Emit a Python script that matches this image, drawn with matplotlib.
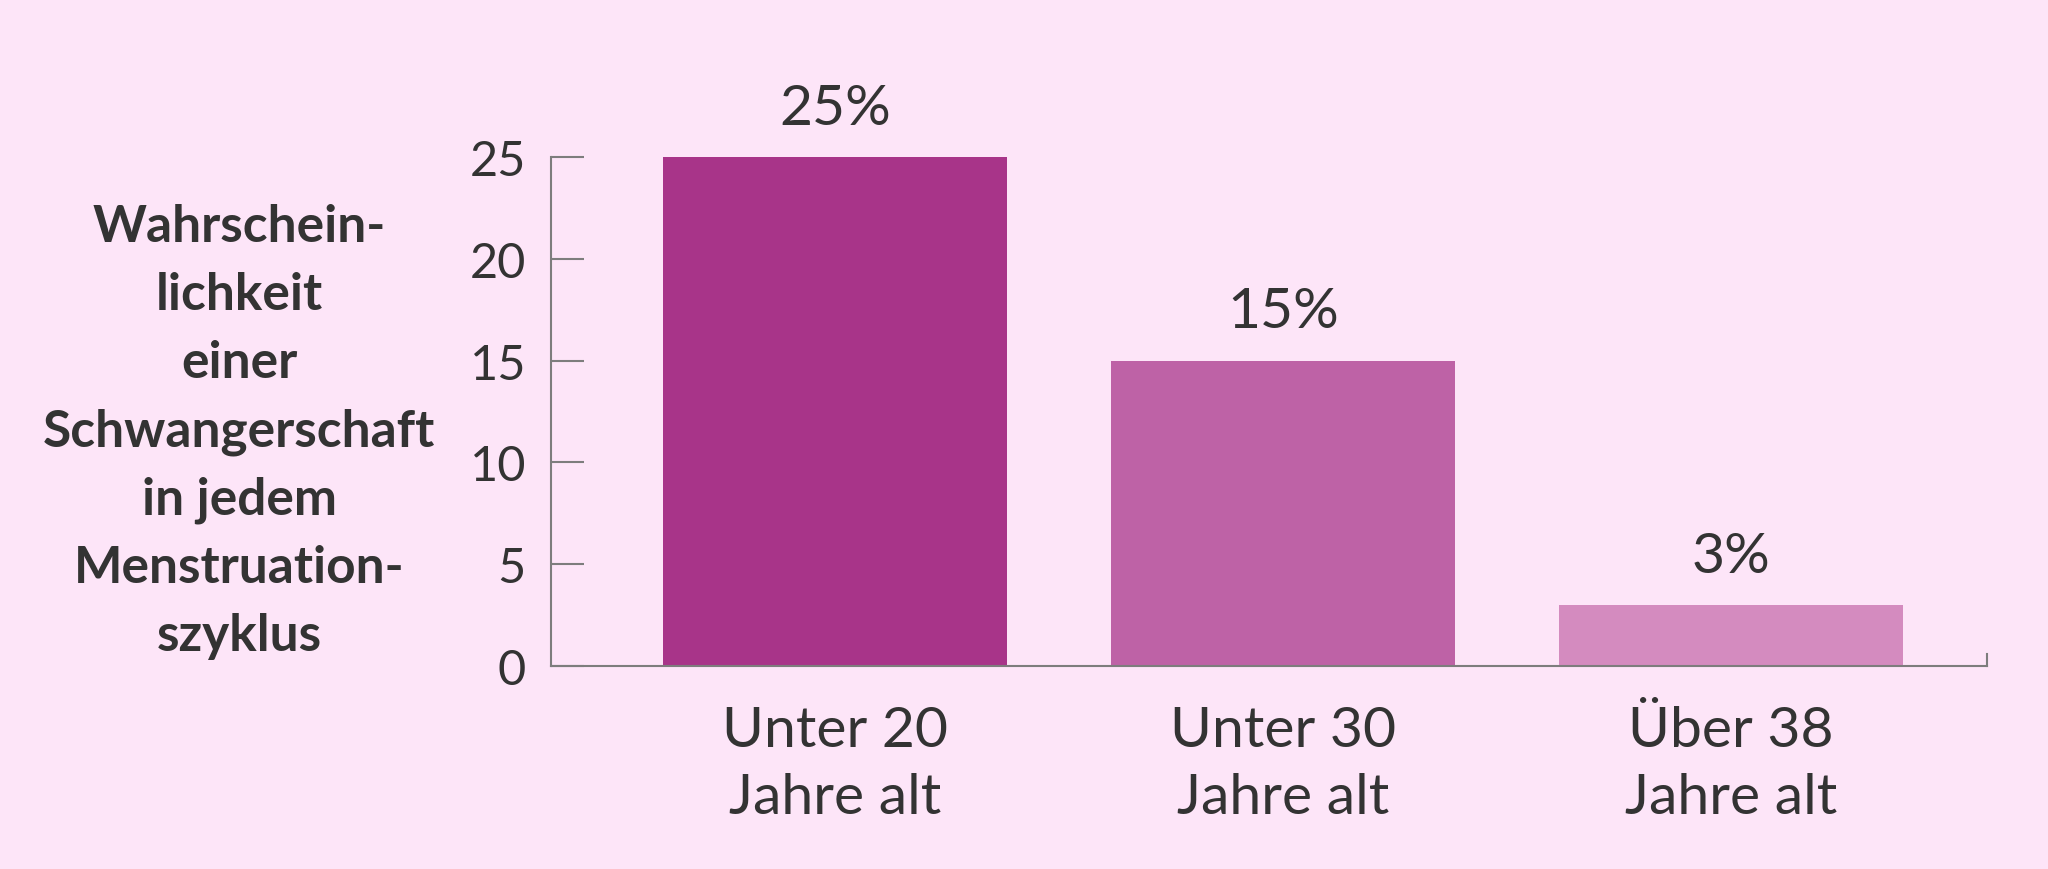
import matplotlib
matplotlib.use("Agg")
import matplotlib.pyplot as plt

# data
categories = ["Unter 20\nJahre alt", "Unter 30\nJahre alt", "Über 38\nJahre alt"]
values = [25, 15, 3]
value_labels = ["25%", "15%", "3%"]
yticks = [0, 5, 10, 15, 20, 25]
ylabel = "Wahrschein-\nlichkeit\neiner\nSchwangerschaft\nin jedem\nMenstruation-\nszyklus"

BG = "#FDE5F8"
INK = "#333333"
AXIS = "#7d7d7d"
BAR_COLORS = ["#A83489", "#BE62A6", "#D48BBF"]

plt.rcParams.update({"font.family": ["Lato", "DejaVu Sans"], "text.color": INK})

W, H = 2048, 870
fig = plt.figure(figsize=(W / 100, H / 100), dpi=100, facecolor=BG)
# axes box in pixel terms: x 551..1987, y 158..667
ax = fig.add_axes([551 / W, 1 - 667 / H, (1987 - 551) / W, (667 - 158) / H])
ax.set_facecolor(BG)

x = range(len(categories))
bars = ax.bar(x, values, width=0.768, color=BAR_COLORS, zorder=2)
for b, lab in zip(bars, value_labels):
    ax.annotate(lab, (b.get_x() + b.get_width() / 2, b.get_height()),
                xytext=(0, 24), textcoords="offset points",
                ha="center", va="baseline", fontsize=41, color=INK)

ax.set_xlim(-0.634, 2.571)
ax.set_ylim(0, 25)
ax.set_yticks(yticks)
ax.set_xticks(list(x), categories)

for s in ("top", "right"):
    ax.spines[s].set_visible(False)
for s in ("left", "bottom"):
    ax.spines[s].set_color(AXIS)
    ax.spines[s].set_linewidth(1.5)

ax.tick_params(axis="y", direction="in", length=24, width=1.5, color=AXIS,
               labelsize=35, labelcolor=INK, pad=18)
ax.tick_params(axis="x", length=0, labelsize=41, labelcolor=INK, pad=28)
for t in ax.get_xticklabels():
    t.set_linespacing(1.4)

# small end tick on the right of the x axis
ax.plot([1, 1], [0, 0.024], transform=ax.transAxes, color=AXIS, lw=1.5, clip_on=False)

fig.text(239 / W, 1 - 432 / H, ylabel, ha="center", va="center", fontsize=37,
         fontweight="bold", color=INK, linespacing=1.55)

fig.savefig("out.png", dpi=100, facecolor=BG)
